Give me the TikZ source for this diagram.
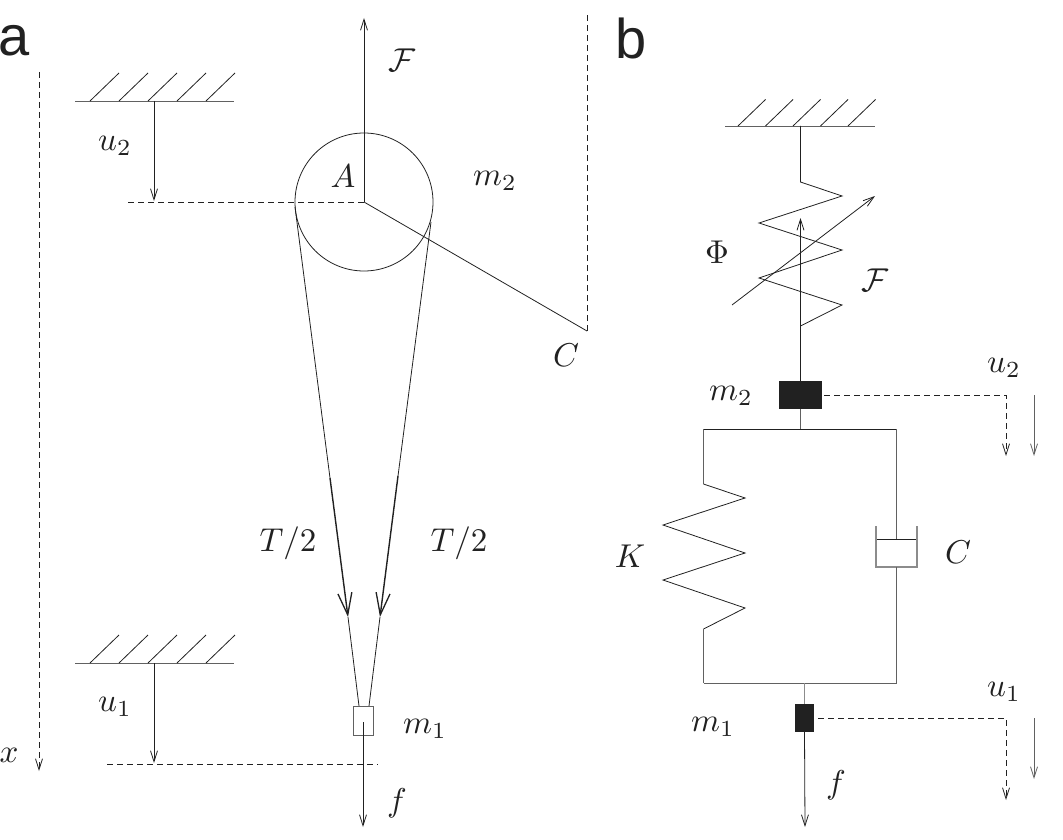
\documentclass[tikz,border=0pt]{standalone}
\usepackage{fontspec}
\newfontfamily\panelfont{Liberation Sans}
\usetikzlibrary{arrows.meta}
\definecolor{ink}{gray}{0.13}
\definecolor{soft}{gray}{0.38}
\definecolor{pale}{gray}{0.55}
\tikzset{
  thin line/.style={draw=ink,line width=0.8pt},
  soft line/.style={draw=soft,line width=0.9pt},
  dash line/.style={draw=ink,line width=0.9pt,dash pattern=on 6pt off 4pt},
  barb/.style={-{Straight Barb[length=11pt,width=7pt,line width=0.8pt]}},
  big barb/.style={-{Straight Barb[length=22pt,width=14pt,line width=1.3pt]}},
  lab/.style={inner sep=0pt,text=ink,transform shape,scale=3.3},
  panel/.style={inner sep=0pt,text=ink,font=\panelfont\fontsize{56}{60}\selectfont},
  mass/.style={draw=none,fill=ink,inner sep=0pt},
}
\newcommand{\hatchat}[3]{% x start, y base, step
  \foreach \i in {0,...,4}{\draw[thin line] (#1+\i*#3,#2) -- ++(#3,-#3+1);}
}
\begin{document}
\begin{tikzpicture}[x=1pt,y=-1pt]
\useasboundingbox (0,0) rectangle (1063,840);
% ---------- panel a
\node[panel] (pa) at (14,41) {a};
\coordinate (xa) at (39,72); \coordinate (xb) at (39,771);
\draw[dash line,barb] (xa) -- (xb);
\node[lab] (lx) at (9,755) {$x$};
% upper ground
\coordinate (g1l) at (75,101); \coordinate (g1r) at (234,101);
\draw[soft line] (g1l) -- (g1r);
\hatchat{90}{101}{29}
\coordinate (u2t) at (154,101); \coordinate (u2b) at (154,201);
\draw[thin line,barb] (u2t) -- (u2b);
\node[lab] (lu2) at (115,146) {$u_2$};
% pulley
\node[circle,draw=ink,line width=0.8pt,minimum size=138pt,inner sep=0pt] (pul) at (364,202) {};
\coordinate (A) at (364,202);
\coordinate (dl) at (128,202);
\draw[dash line] (dl) -- (A);
\coordinate (Ftop) at (364,18);
\draw[thin line,barb] (A) -- (Ftop);
\coordinate (Cc) at (587,331); \coordinate (Ct) at (587,15);
\draw[thin line] (A) -- (Cc);
\draw[dash line] (Cc) -- (Ct);
\node[lab] (lF) at (402,60) {$\mathcal{F}$};
\node[lab] (lA) at (343,176) {$A$};
\node[lab] (lm2) at (495,181) {$m_2$};
\node[lab] (lC) at (566,355) {$C$};
% cables
\coordinate (tl) at (295,207); \coordinate (tr) at (431,222);
\coordinate (al) at (330,478); \coordinate (bl) at (348,617); \coordinate (cl) at (359,706);
\coordinate (ar) at (398,476); \coordinate (br) at (380,617); \coordinate (cr) at (369,706);
\draw[thin line] (tl) -- (al) (bl) -- (cl) (tr) -- (ar) (br) -- (cr);
\draw[draw=ink,line width=1.4pt,big barb] (al) -- (bl);
\draw[draw=ink,line width=1.4pt,big barb] (ar) -- (br);
\node[lab] (lT1) at (288,543) {$T/2$};
\node[lab] (lT2) at (459,543) {$T/2$};
% lower mass
\node[draw=soft,line width=0.8pt,minimum width=20pt,minimum height=29pt,inner sep=0pt] (ma) at (363,720.5) {};
\coordinate (fa) at (363,722); \coordinate (fb) at (363,827);
\draw[thin line,barb] (fa) -- (fb);
\coordinate (d2l) at (107,764); \coordinate (d2r) at (378,764);
\draw[dash line] (d2l) -- (d2r);
\node[lab] (lm1) at (425,729) {$m_1$};
\node[lab] (lf) at (397,803) {$f$};
% lower ground
\coordinate (g2l) at (75,663); \coordinate (g2r) at (234,663);
\draw[soft line] (g2l) -- (g2r);
\hatchat{90}{663}{29}
\coordinate (u1t) at (154,663); \coordinate (u1b) at (154,763);
\draw[thin line,barb] (u1t) -- (u1b);
\node[lab] (lu1) at (115,707) {$u_1$};
% ---------- panel b
\node[panel] (pb) at (631,38) {b};
\coordinate (g3l) at (725,126); \coordinate (g3r) at (875,126);
\draw[soft line] (g3l) -- (g3r);
\hatchat{738}{126}{27.5}
% upper spring
\node[mass,minimum width=43pt,minimum height=28pt] (M2) at (800.5,395) {};
\coordinate (s0) at (800.5,126);
\draw[thin line] (s0) -- (800.5,182) -- (842,196) -- (759,223) -- (842,250) -- (759,278) -- (842,305) -- (800.5,326);
\draw[draw=ink,line width=1.1pt,barb] (M2.north) -- (800.5,218);
\coordinate (da) at (732,305); \coordinate (db) at (875,196);
\draw[thin line,barb] (da) -- (db);
\node[lab] (lPhi) at (717,252) {$\Phi$};
\node[lab] (lF2) at (875,280) {$\mathcal{F}$};
\node[lab] (lm2b) at (731,396) {$m_2$};
% frame
\coordinate (ftl) at (703.5,429); \coordinate (ftr) at (896.5,429);
\coordinate (ftm) at (800.5,429);
\coordinate (fbl) at (703.5,683); \coordinate (fbr) at (896.5,683);
\coordinate (fbm) at (804.5,683);
\draw[soft line] (M2.south) -- (ftm);
\draw[thin line] (ftl) -- (ftr);
\draw[soft line] (ftl) -- (703.5,484);
\draw[thin line] (703.5,484) -- (745,498) -- (663,525) -- (745,553) -- (663,580) -- (745,608) -- (703.5,629);
\draw[soft line] (703.5,629) -- (fbl);
\draw[soft line] (fbl) -- (fbr);
\node[lab] (lK) at (630,556) {$K$};
% damper
\coordinate (pist) at (896.5,539); \coordinate (dbot) at (896.5,567);
\draw[soft line] (ftr) -- (pist);
\draw[thin line] (876,539) -- (917,539);
\draw[draw=pale,line width=1.2pt] (876,526) -- (876,567) -- (917,567) -- (917,526);
\draw[soft line] (dbot) -- (fbr);
\node[lab] (lCb) at (958,552) {$C$};
% lower mass
\node[mass,minimum width=19pt,minimum height=28pt] (M1) at (804.5,718) {};
\draw[draw=pale,line width=1.1pt] (fbm) -- (M1.north);
\coordinate (fbb) at (805,827);
\draw[thin line,barb] (M1.south) -- (fbb);
\node[lab] (lm1b) at (713,727) {$m_1$};
\node[lab] (lfb) at (836,785) {$f$};
% displacement indicators
\coordinate (c2) at (1006,395); \coordinate (e2) at (1006,456);
\draw[dash line,barb] (M2.east) ++(2,0) -- (c2) -- (e2);
\coordinate (s2a) at (1034,395); \coordinate (s2b) at (1034,456);
\draw[soft line,barb] (s2a) -- (s2b);
\node[lab] (lu2b) at (1004,368) {$u_2$};
\coordinate (c1) at (1006,718); \coordinate (e1) at (1006,800);
\draw[dash line,barb] (M1.east) ++(4,0) -- (c1) -- (e1);
\coordinate (s1a) at (1034,718); \coordinate (s1b) at (1034,779);
\draw[soft line,barb] (s1a) -- (s1b);
\node[lab] (lu1b) at (1004,692) {$u_1$};
\end{tikzpicture}
\end{document}
